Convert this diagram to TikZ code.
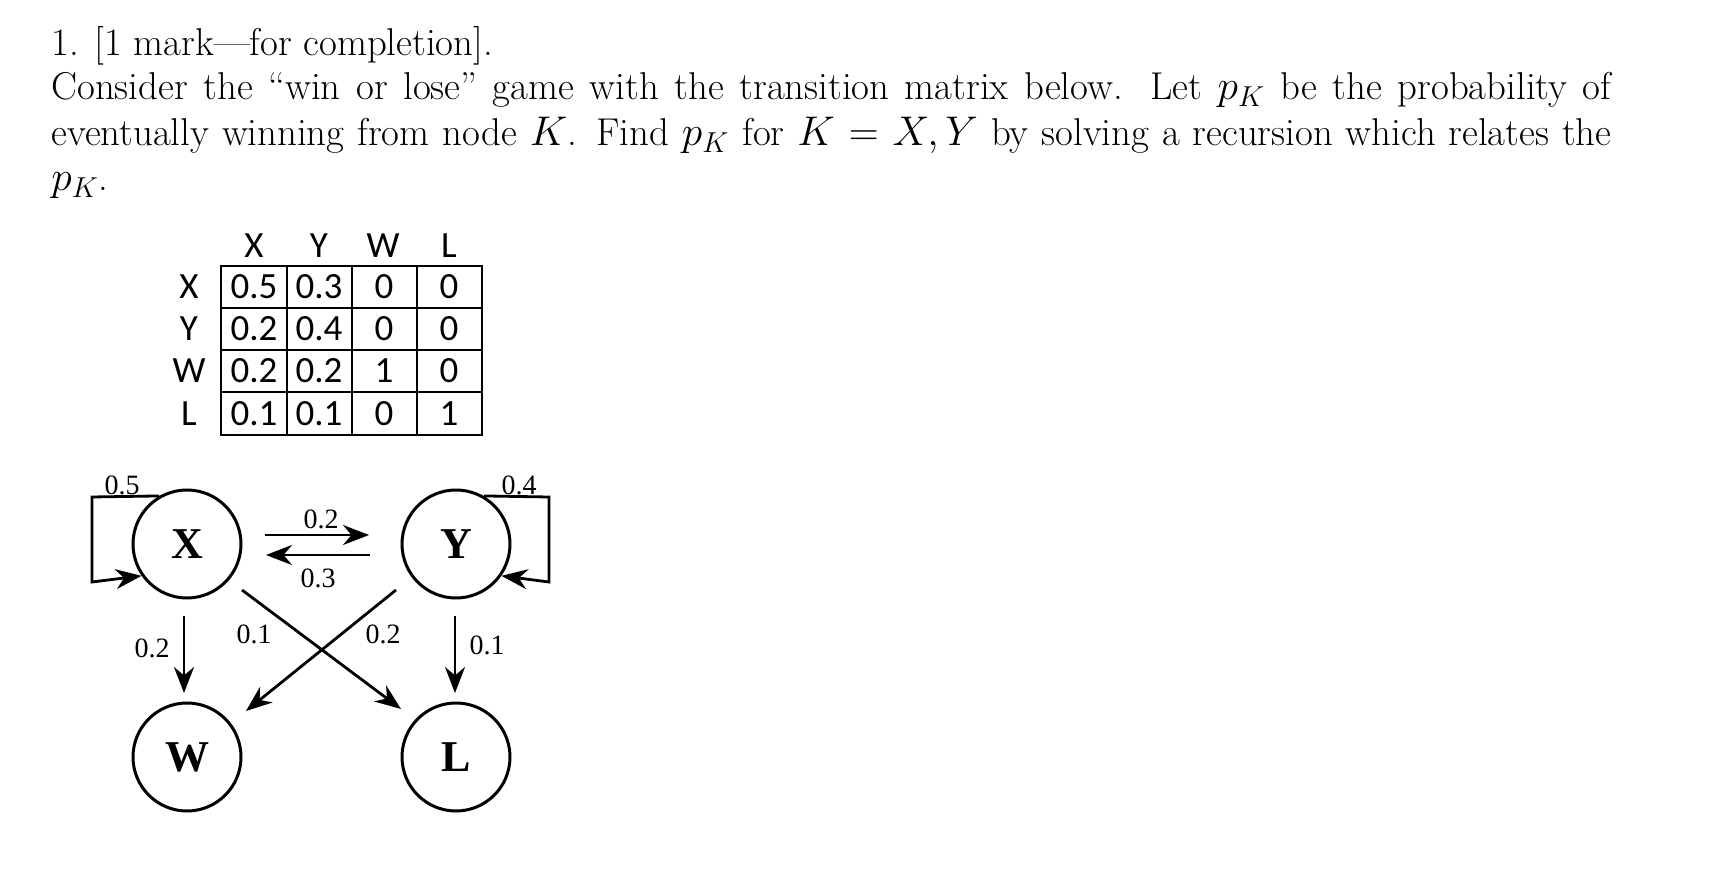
\documentclass[tikz,border=0pt]{standalone}
\usepackage{fontspec}
\newfontfamily\tabfont{Carlito}
\newfontfamily\timesf{Liberation Serif}
\usetikzlibrary{arrows.meta}
\begin{document}
\begin{tikzpicture}[x=0.5pt,y=-0.5pt,
  txt/.style={anchor=base west,inner sep=0pt,font=\fontsize{19.4}{23.3}\selectfont},
  tab/.style={inner sep=0pt,font=\tabfont\fontsize{18.5}{20}\selectfont},
  st/.style={circle,draw,line width=1.5pt,minimum size=54pt,inner sep=0pt,font=\timesf\bfseries\fontsize{22}{24}\selectfont},
  lab/.style={inner sep=0pt,font=\timesf\fontsize{14}{15}\selectfont},
  arr/.style={line width=1.4pt,-{Stealth[length=13pt,width=10pt]}}]
\useasboundingbox (0,0) rectangle (1732,886);
\node[txt] (l1) at (51,56) {1. [1 mark---for completion].};
\node[txt] (l2) at (51,100) {\makebox[780pt][s]{Consider the ``win or lose'' game with the transition matrix below. Let $p_K$ be the probability of}};
\node[txt] (l3) at (51,146) {\makebox[780pt][s]{eventually winning from node $K$. Find $p_K$ for $K = X, Y$ by solving a recursion which relates the}};
\node[txt] (l4) at (51,191) {$p_K$.};
% table
\draw[line width=0.6pt] (221,266) rectangle (482,435);
\foreach \x in {287,352,417} \draw[line width=0.6pt] (\x,266) -- (\x,435);
\foreach \y in {308,350,392} \draw[line width=0.6pt] (221,\y) -- (482,\y);
\foreach \t [count=\i] in {X,Y,W,L}{
  \pgfmathsetmacro{\cx}{{254,319,383,449}[\i-1]}
  \pgfmathsetmacro{\ry}{{287,329,371,414}[\i-1]}
  \node[tab] (h\i) at (\cx,246) {\t};
  \node[tab] (r\i) at (189,\ry) {\t};
}
\foreach \a/\b/\c/\d [count=\i] in {0.5/0.3/0/0,0.2/0.4/0/0,0.2/0.2/1/0,0.1/0.1/0/1}{
  \pgfmathsetmacro{\ry}{{287,329,371,414}[\i-1]}
  \node[tab] (c\i a) at (254,\ry) {\a};
  \node[tab] (c\i b) at (319,\ry) {\b};
  \node[tab] (c\i c) at (384,\ry) {\c};
  \node[tab] (c\i d) at (449,\ry) {\d};
}
% states
\node[st] (X) at (187,544) {X};
\node[st] (Y) at (456,544) {Y};
\node[st] (W) at (187,757) {W};
\node[st] (L) at (456,757) {L};
% self loops
\draw[arr] (X.120) -- (92,497) -- (92,582) -- (X.215);
\draw[arr] (Y.60) -- (549,497) -- (549,582) -- (Y.-35);
\node[lab] (p05) at (122,485) {0.5};
\node[lab] (p04) at (519,485) {0.4};
% horizontal
\coordinate (a1) at (265,535); \coordinate (a2) at (369,535);
\coordinate (b1) at (370,555); \coordinate (b2) at (266,555);
\draw[arr] (a1) -- (a2);
\draw[arr] (b1) -- (b2);
\node[lab] (pxy) at (321,519) {0.2};
\node[lab] (pyx) at (318,578) {0.3};
% vertical
\coordinate (v1) at (184,616); \coordinate (v2) at (184,693);
\coordinate (u1) at (455,616); \coordinate (u2) at (455,693);
\draw[arr] (v1) -- (v2);
\draw[arr] (u1) -- (u2);
\node[lab] (pxw) at (152,648) {0.2};
\node[lab] (pyl) at (487,645) {0.1};
% diagonals
\coordinate (d1) at (242,590); \coordinate (d2) at (401,709);
\coordinate (e1) at (396,590); \coordinate (e2) at (246,711);
\draw[arr] (d1) -- (d2);
\draw[arr] (e1) -- (e2);
\node[lab] (pxl) at (254,634) {0.1};
\node[lab] (pyw) at (383,634) {0.2};
\end{tikzpicture}
\end{document}
